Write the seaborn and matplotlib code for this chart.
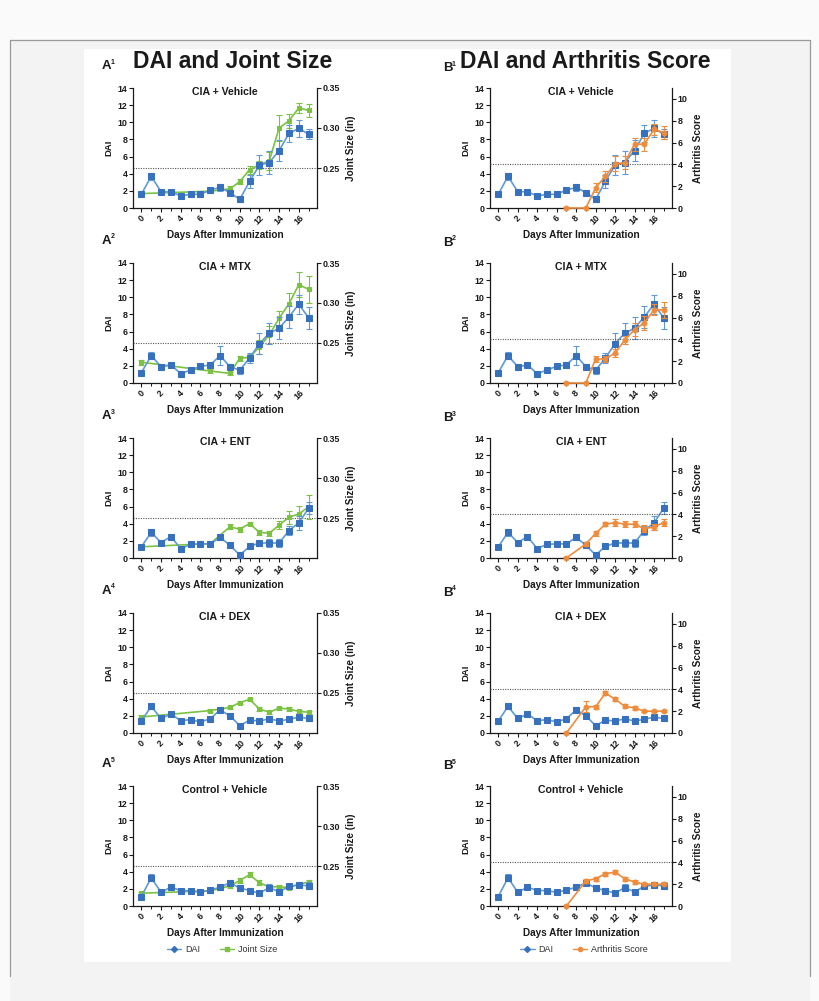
import numpy as np
import pandas as pd
import matplotlib
matplotlib.use("Agg")
import matplotlib.pyplot as plt
from matplotlib.patches import Rectangle
from matplotlib.lines import Line2D
import seaborn as sns

sns.set_theme(style="ticks")
plt.rcParams["font.family"] = ["Liberation Sans", "DejaVu Sans"]

# ---------------- data ----------------
groups = ["CIA + Vehicle", "CIA + MTX", "CIA + ENT", "CIA + DEX", "Control + Vehicle"]
dai_days = list(range(18))
joint_days = [0, 7, 9, 10, 11, 12, 13, 14, 15, 16, 17]
arth_days = [7, 9, 10, 11, 12, 13, 14, 15, 16, 17]
x_ticks = [0, 2, 4, 6, 8, 10, 12, 14, 16]

dai_vehicle = [1.6, 3.7, 1.9, 1.9, 1.4, 1.6, 1.6, 2.1, 2.4, 1.8, 1.0, 3.1, 5.0, 5.3, 6.7, 8.7, 9.3, 8.6]
dai_vehicle_err = [0.2, 0.4, 0.2, 0.2, 0.2, 0.2, 0.2, 0.2, 0.4, 0.3, 0.3, 0.8, 1.2, 1.3, 1.2, 1.0, 1.0, 0.6]
dai_mtx = [1.2, 3.2, 1.9, 2.1, 1.1, 1.5, 1.95, 2.1, 3.2, 1.9, 1.5, 2.9, 4.6, 5.8, 6.4, 7.7, 9.2, 7.6]
dai_mtx_err = [0.2, 0.4, 0.2, 0.2, 0.2, 0.2, 0.3, 0.3, 1.1, 0.3, 0.4, 0.6, 1.2, 1.2, 1.3, 1.3, 1.1, 1.3]
dai_ent = [1.3, 3.0, 1.8, 2.5, 1.1, 1.6, 1.65, 1.65, 2.4, 1.5, 0.35, 1.35, 1.75, 1.75, 1.75, 3.2, 4.1, 5.8]
dai_ent_err = [0.2, 0.4, 0.2, 0.2, 0.2, 0.2, 0.3, 0.2, 0.3, 0.2, 0.3, 0.2, 0.3, 0.5, 0.5, 0.5, 0.8, 0.7]
dai_dex = [1.4, 3.1, 1.7, 2.2, 1.45, 1.55, 1.3, 1.65, 2.7, 2.0, 0.85, 1.5, 1.4, 1.65, 1.4, 1.6, 1.85, 1.7]
dai_dex_err = [0.2, 0.3, 0.2, 0.2, 0.2, 0.2, 0.2, 0.2, 0.3, 0.3, 0.2, 0.3, 0.3, 0.3, 0.2, 0.3, 0.3, 0.3]
dai_ctrl = [1.1, 3.3, 1.6, 2.2, 1.8, 1.8, 1.6, 1.85, 2.2, 2.7, 2.1, 1.8, 1.5, 2.15, 1.65, 2.3, 2.45, 2.35]
dai_ctrl_err = [0.2, 0.4, 0.2, 0.2, 0.2, 0.2, 0.2, 0.3, 0.3, 0.3, 0.3, 0.3, 0.2, 0.4, 0.2, 0.2, 0.2, 0.4]

joint_vehicle = [0.218, 0.221, 0.224, 0.233, 0.248, 0.254, 0.259, 0.300, 0.309, 0.325, 0.322]
joint_vehicle_err = [0.002, 0.002, 0.003, 0.003, 0.005, 0.005, 0.011, 0.016, 0.009, 0.006, 0.008]
joint_mtx = [0.226, 0.215, 0.212, 0.231, 0.232, 0.245, 0.260, 0.281, 0.299, 0.323, 0.317]
joint_mtx_err = [0.003, 0.002, 0.002, 0.003, 0.004, 0.009, 0.011, 0.009, 0.014, 0.016, 0.017]
joint_ent = [0.214, 0.218, 0.239, 0.236, 0.243, 0.232, 0.231, 0.241, 0.251, 0.255, 0.264]
joint_ent_err = [0.002, 0.002, 0.003, 0.003, 0.002, 0.003, 0.003, 0.005, 0.008, 0.010, 0.015]
joint_dex = [0.220, 0.228, 0.232, 0.238, 0.242, 0.230, 0.226, 0.231, 0.230, 0.227, 0.226]
joint_dex_err = [0.002, 0.002, 0.002, 0.002, 0.002, 0.002, 0.002, 0.002, 0.002, 0.002, 0.002]
joint_ctrl = [0.216, 0.219, 0.225, 0.232, 0.239, 0.229, 0.224, 0.224, 0.223, 0.227, 0.230]
joint_ctrl_err = [0.002, 0.002, 0.003, 0.003, 0.003, 0.003, 0.002, 0.002, 0.002, 0.002, 0.003]

arth_vehicle = [0.0, 0.0, 1.85, 2.9, 4.05, 4.15, 5.85, 5.85, 7.2, 6.9]
arth_vehicle_err = [0.1, 0.1, 0.4, 0.5, 0.7, 0.6, 0.6, 0.6, 0.5, 0.6]
arth_mtx = [0.0, 0.0, 2.2, 2.2, 2.75, 3.95, 4.9, 5.5, 6.7, 6.7]
arth_mtx_err = [0.1, 0.1, 0.3, 0.3, 0.4, 0.4, 0.6, 0.6, 0.5, 0.7]
arth_ent = [0.0, 1.3, 2.25, 3.1, 3.25, 3.1, 3.1, 2.7, 2.85, 3.25]
arth_ent_err = [0.1, 0.2, 0.2, 0.2, 0.3, 0.3, 0.3, 0.3, 0.3, 0.3]
arth_dex = [0.0, 2.4, 2.4, 3.65, 3.1, 2.45, 2.3, 2.0, 2.0, 2.0]
arth_dex_err = [0.1, 0.5, 0.2, 0.2, 0.2, 0.2, 0.2, 0.1, 0.1, 0.1]
arth_ctrl = [0.0, 2.3, 2.5, 2.95, 3.1, 2.5, 2.2, 2.0, 2.0, 2.0]
arth_ctrl_err = [0.1, 0.2, 0.2, 0.2, 0.2, 0.2, 0.2, 0.1, 0.1, 0.1]

dai_all = [dai_vehicle, dai_mtx, dai_ent, dai_dex, dai_ctrl]
dai_err_all = [dai_vehicle_err, dai_mtx_err, dai_ent_err, dai_dex_err, dai_ctrl_err]
joint_all = [joint_vehicle, joint_mtx, joint_ent, joint_dex, joint_ctrl]
joint_err_all = [joint_vehicle_err, joint_mtx_err, joint_ent_err, joint_dex_err, joint_ctrl_err]
arth_all = [arth_vehicle, arth_mtx, arth_ent, arth_dex, arth_ctrl]
arth_err_all = [arth_vehicle_err, arth_mtx_err, arth_ent_err, arth_dex_err, arth_ctrl_err]

# ---------------- style ----------------
BLUE = "#3770bd"
BLUE_LINE = "#5f9ad6"
GREEN = "#7cc242"
ORANGE = "#ef8c3c"
TXT = "#1a1a1a"

W, H = 820, 1001
fig = plt.figure(figsize=(W / 100, H / 100), dpi=100)
fig.patch.set_facecolor("#fafafa")

# page background decoration
fig.patches.append(Rectangle((10 / W, 0), 800 / W, 1 - 40 / H, transform=fig.transFigure,
                             facecolor="#f3f3f3", edgecolor="none", zorder=-10))
for xs, ys in [([10, 810], [40, 40]), ([10, 10], [40, 976]), ([810, 810], [40, 976])]:
    fig.add_artist(Line2D([x / W for x in xs], [1 - y / H for y in ys], color="#9a9a9a",
                          lw=0.9, transform=fig.transFigure, zorder=-9))
fig.patches.append(Rectangle((84 / W, 1 - 962 / H), (731 - 84) / W, (962 - 49) / H,
                             transform=fig.transFigure, facecolor="white", edgecolor="none", zorder=-9))

row_tops = [88, 263, 438, 613, 786]
AX_H = 120
XLIM = (-0.85, 17.85)


def style_axes(ax, ax2):
    for a in (ax, ax2):
        a.set_facecolor("none")
        a.spines["top"].set_visible(False)
        for s in ("left", "right", "bottom"):
            a.spines[s].set_color(TXT)
            a.spines[s].set_linewidth(0.9)
        a.tick_params(axis="both", which="both", direction="out", length=3, width=0.8,
                      color=TXT, labelsize=6.4, labelcolor=TXT, pad=1)
        for lab in a.get_yticklabels():
            lab.set_fontweight("bold")
    ax.spines["right"].set_visible(False)
    ax2.spines["left"].set_visible(False)
    ax2.spines["bottom"].set_visible(False)
    ax.set_xlim(*XLIM)
    ax.set_xticks(x_ticks)
    ax.set_xticks(range(0, 18), minor=True)
    ax.set_xticklabels([str(t) for t in x_ticks], rotation=45, ha="center",
                       fontsize=6.4, fontweight="bold")
    ax.tick_params(axis="x", which="minor", length=2, width=0.7)
    ax.set_ylim(0, 14)
    ax.set_yticks(range(0, 15, 2))
    ax.set_yticklabels([str(t) for t in range(0, 15, 2)], fontsize=6.4, fontweight="bold")
    ax.set_xlabel("Days After Immunization", fontsize=7.2, fontweight="bold", color=TXT, labelpad=2)
    ax.set_ylabel("DAI", fontsize=6.8, fontweight="bold", color=TXT, labelpad=3)


def draw_series(ax, x, y, err, color, line_color, marker, ms, z):
    ax.errorbar(x, y, yerr=err, fmt="none", ecolor=line_color, elinewidth=0.8,
                capsize=2, capthick=0.8, zorder=z)
    sns.lineplot(x=x, y=y, ax=ax, color=line_color, lw=1.2, marker=marker, markersize=ms,
                 markerfacecolor=color, markeredgecolor=color, zorder=z + 1, clip_on=False,
                 legend=False, errorbar=None)


for i, g in enumerate(groups):
    bottom = 1 - (row_tops[i] + AX_H) / H
    h = AX_H / H

    # ---- column A: DAI + joint size ----
    axA = fig.add_axes([133 / W, bottom, 184 / W, h])
    axA2 = axA.twinx()
    axA.set_zorder(axA2.get_zorder() + 1)
    draw_series(axA2, joint_days, joint_all[i], joint_err_all[i], GREEN, GREEN, "s", 3.3, 2)
    axA2.set_ylim(0.20, 0.35)
    axA2.set_yticks([0.25, 0.30, 0.35])
    axA2.set_yticklabels(["0.25", "0.30", "0.35"])
    axA2.axhline(0.25, color="#555555", lw=0.8, ls=(0, (1, 1.2)), zorder=1)
    axA2.set_ylabel("Joint Size (in)", fontsize=7.2, fontweight="bold", color=TXT, labelpad=4)
    draw_series(axA, dai_days, dai_all[i], dai_err_all[i], BLUE, BLUE_LINE, "s", 3.7, 3)
    style_axes(axA, axA2)
    axA.text(0.5, 0.97, g, transform=axA.transAxes, ha="center", va="center",
             fontsize=7.6, fontweight="bold", color=TXT)

    # ---- column B: DAI + arthritis score ----
    axB = fig.add_axes([490 / W, bottom, 182 / W, h])
    axB2 = axB.twinx()
    draw_series(axB, dai_days, dai_all[i], dai_err_all[i], BLUE, BLUE_LINE, "s", 3.7, 3)
    draw_series(axB2, arth_days, arth_all[i], arth_err_all[i], ORANGE, ORANGE, "o", 3.5, 4)
    axB2.set_ylim(0, 11)
    axB2.set_yticks(range(0, 11, 2))
    axB2.axhline(4, color="#555555", lw=0.8, ls=(0, (1, 1.2)), zorder=1)
    axB2.set_ylabel("Arthritis Score", fontsize=7.2, fontweight="bold", color=TXT, labelpad=4)
    style_axes(axB, axB2)
    axB.text(0.5, 0.97, g, transform=axB.transAxes, ha="center", va="center",
             fontsize=7.6, fontweight="bold", color=TXT)

    # panel labels
    ly = [66, 241, 416, 591, 764][i]
    fig.text(102 / W, 1 - ly / H, "A", ha="left", va="center", fontsize=9.5, fontweight="bold", color=TXT)
    fig.text(111 / W, 1 - (ly - 4) / H, str(i + 1), ha="left", va="center", fontsize=5, fontweight="bold", color=TXT)
    fig.text(443 / W, 1 - (ly + 2) / H, "B", ha="left", va="center", fontsize=9.5, fontweight="bold", color=TXT)
    fig.text(452 / W, 1 - (ly - 2) / H, str(i + 1), ha="left", va="center", fontsize=5, fontweight="bold", color=TXT)

# headers
fig.text(233 / W, 1 - 61 / H, "DAI and Joint Size", ha="center", va="center",
         fontsize=16.5, fontweight="bold", color=TXT)
fig.text(585 / W, 1 - 61 / H, "DAI and Arthritis Score", ha="center", va="center",
         fontsize=16.5, fontweight="bold", color=TXT)

# legends
def handle(c, lc, m):
    return Line2D([], [], color=lc, lw=1.0, marker=m, markersize=3, markerfacecolor=c, markeredgecolor=c)

legA = fig.legend([handle(BLUE, BLUE_LINE, "D"), handle(GREEN, GREEN, "s")], ["DAI", "Joint Size"],
                  loc="center", bbox_to_anchor=(222 / W, 1 - 950 / H), ncol=2, frameon=False,
                  fontsize=6.5, handlelength=1.6, columnspacing=2.2, handletextpad=0.4)
legB = fig.legend([handle(BLUE, BLUE_LINE, "D"), handle(ORANGE, ORANGE, "o")], ["DAI", "Arthritis Score"],
                  loc="center", bbox_to_anchor=(584 / W, 1 - 950 / H), ncol=2, frameon=False,
                  fontsize=6.5, handlelength=1.6, columnspacing=2.2, handletextpad=0.4)
for leg in (legA, legB):
    for t in leg.get_texts():
        t.set_color("#333333")

fig.savefig("out.png", dpi=100, facecolor=fig.get_facecolor())
